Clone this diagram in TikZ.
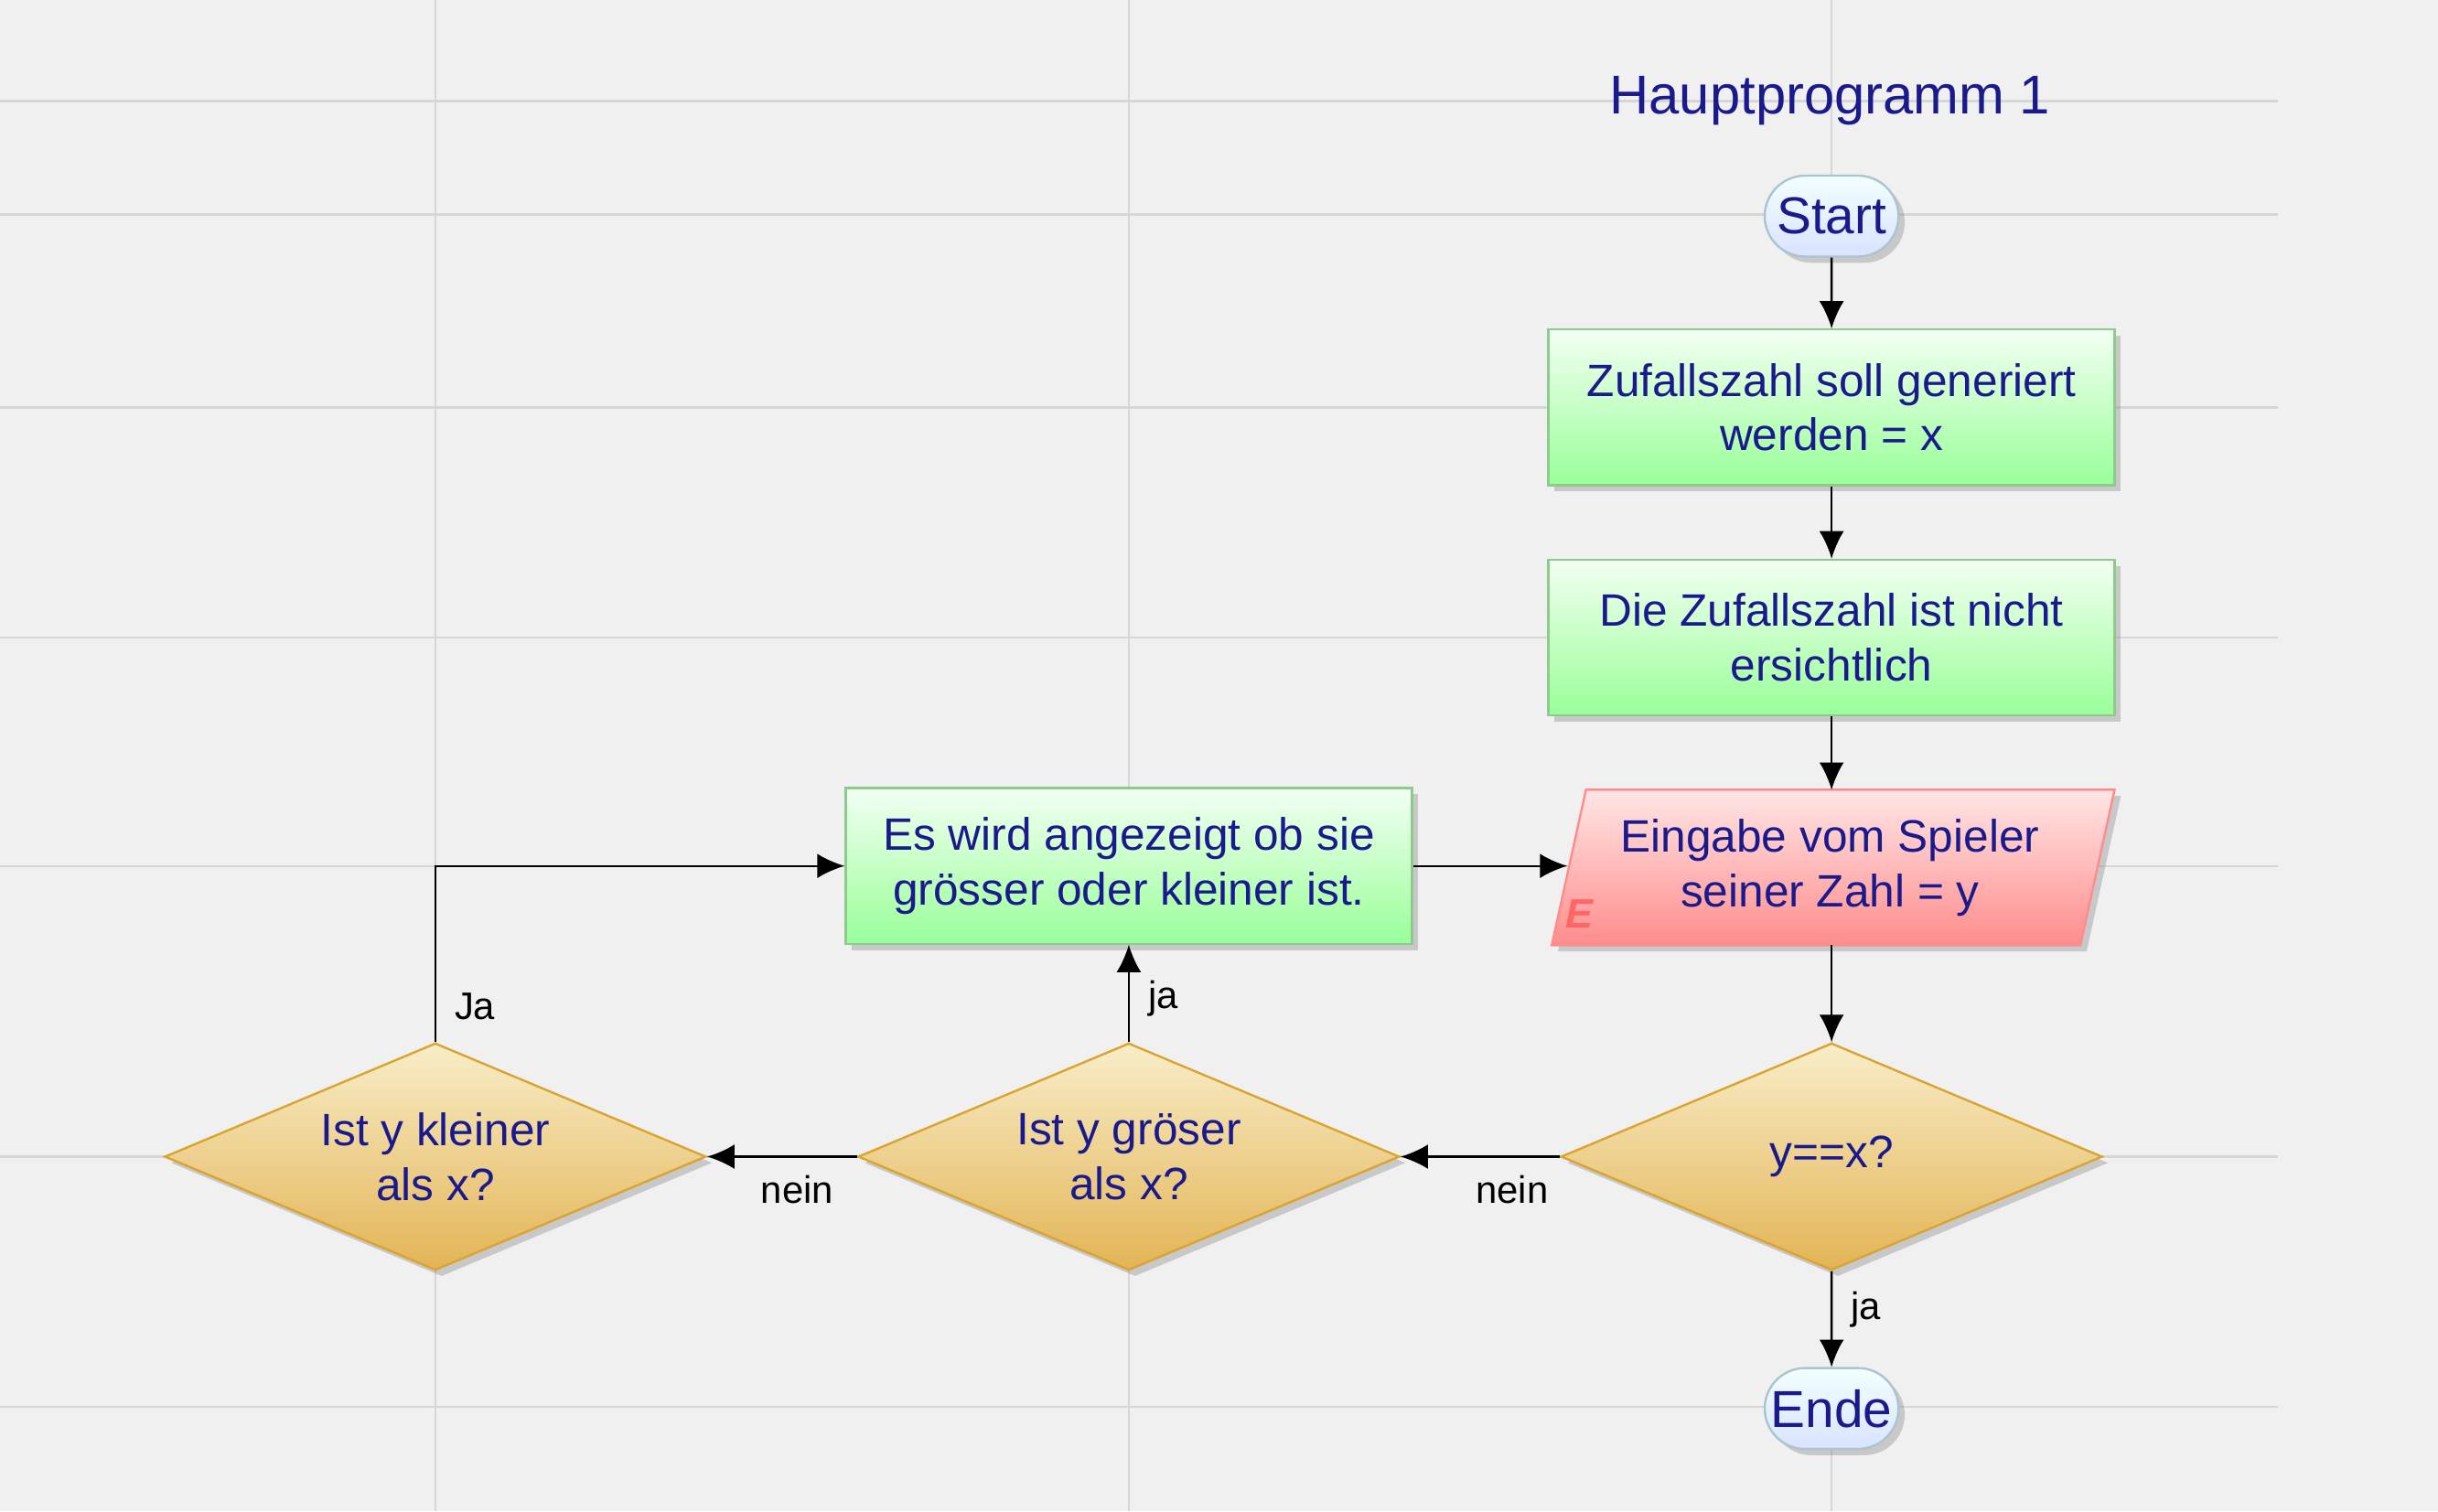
\documentclass[tikz,border=0pt]{standalone}
\usepackage{fontspec}
\setmainfont{Liberation Sans}
\usetikzlibrary{shapes.geometric,shapes.misc,arrows.meta,shadows}
\definecolor{txt}{HTML}{1A1A8C}
\definecolor{bg}{HTML}{F0F0F0}
\definecolor{grid}{HTML}{D6D6D6}
\definecolor{goldA}{HTML}{F8EDC8}
\definecolor{goldB}{HTML}{E3B455}
\definecolor{goldD}{HTML}{D9A430}
\begin{document}
\begin{tikzpicture}[x={(0.01cm,0)},y={(0,-0.01cm)},
  font=\fontsize{8.3}{10}\selectfont,
  base/.style={text=txt,align=center,drop shadow={shadow xshift=0.04cm,shadow yshift=-0.04cm,opacity=0.35,fill=gray}},
  proc/.style={base,rectangle,minimum width=3.64cm,minimum height=1cm,draw=green!55!black!45,
     top color=white!95!green, bottom color=green!40,
     inner sep=1pt},
  term/.style={base,rounded rectangle,minimum width=1.66cm,minimum height=0.52cm,inner xsep=0.4cm,draw=cyan!30!gray!60,
     top color=cyan!5,bottom color=cyan!25!blue!15,font=\fontsize{9.5}{11}\selectfont},
  dec/.style={base,diamond,aspect=2.38,minimum width=3.48cm,minimum height=1.46cm,inner sep=0pt,draw=goldD,
     top color=goldA,bottom color=goldB},
  arr/.style={-{Latex[length=5pt,width=4.5pt]},black,thin},
  lab/.style={font=\fontsize{7}{8}\selectfont,text=black}
]
\useasboundingbox (0,0) rectangle (1568,972);
\fill[bg] (0,0) rectangle (1568,972);
\foreach \y in {65,138,262,410,557,744,905} \draw[grid] (0,\y) -- (1465,\y);
\foreach \x in {280,726,1178} \draw[grid] (\x,0) -- (\x,972);

\node[text=txt,font=\fontsize{10}{12}\selectfont] (title) at (1177,65) {Hauptprogramm 1};
\node[term] (start) at (1178,139) {Start};
\node[proc] (b1) at (1178,262) {Zufallszahl soll generiert\\werden = x};
\node[proc] (b2) at (1178,410) {Die Zufallszahl ist nicht\\ersichtlich};
\shade[top color=red!10,bottom color=red!45,draw=red!45,drop shadow={shadow xshift=0.04cm,shadow yshift=-0.04cm,opacity=0.35,fill=gray}]
  (1020,508) -- (1360,508) -- (1338,608) -- (998,608) -- cycle;
\node[text=txt,align=center,minimum width=3.5cm,minimum height=1cm] (para) at (1177,558) {Eingabe vom Spieler\\seiner Zahl = y};
\node[text=red!60,font=\fontsize{7.5}{9}\selectfont\bfseries\itshape] (E) at (1016,588) {E};
\node[dec] (d1) at (1178,744) {y==x?};
\node[term] (ende) at (1178,906) {Ende};
\node[dec] (d2) at (726,744) {Ist y gröser\\als x?};
\node[dec] (d3) at (280,744) {Ist y kleiner\\als x?};
\node[proc] (b3) at (726,557) {Es wird angezeigt ob sie\\grösser oder kleiner ist.};

\draw[arr] (start) -- (b1);
\draw[arr] (b1) -- (b2);
\draw[arr] (b2) -- (1178,508);
\draw[arr] (1178,608) -- (d1);
\draw[arr] (d1) -- node[lab,right,pos=0.4]{ja} (ende);
\draw[arr] (d1.west) -- node[lab,below,pos=0.3]{nein} (d2.east);
\draw[arr] (d2.west) -- node[lab,below,pos=0.4]{nein} (d3.east);
\draw[arr] (d2.north) -- node[lab,right,pos=0.45]{ja} (b3.south);
\draw[arr] (d3.north) -- node[lab,right,pos=0.2]{Ja} (280,557) -- (b3.west);
\draw[arr] (b3.east) -- (1008,557);
\end{tikzpicture}
\end{document}
